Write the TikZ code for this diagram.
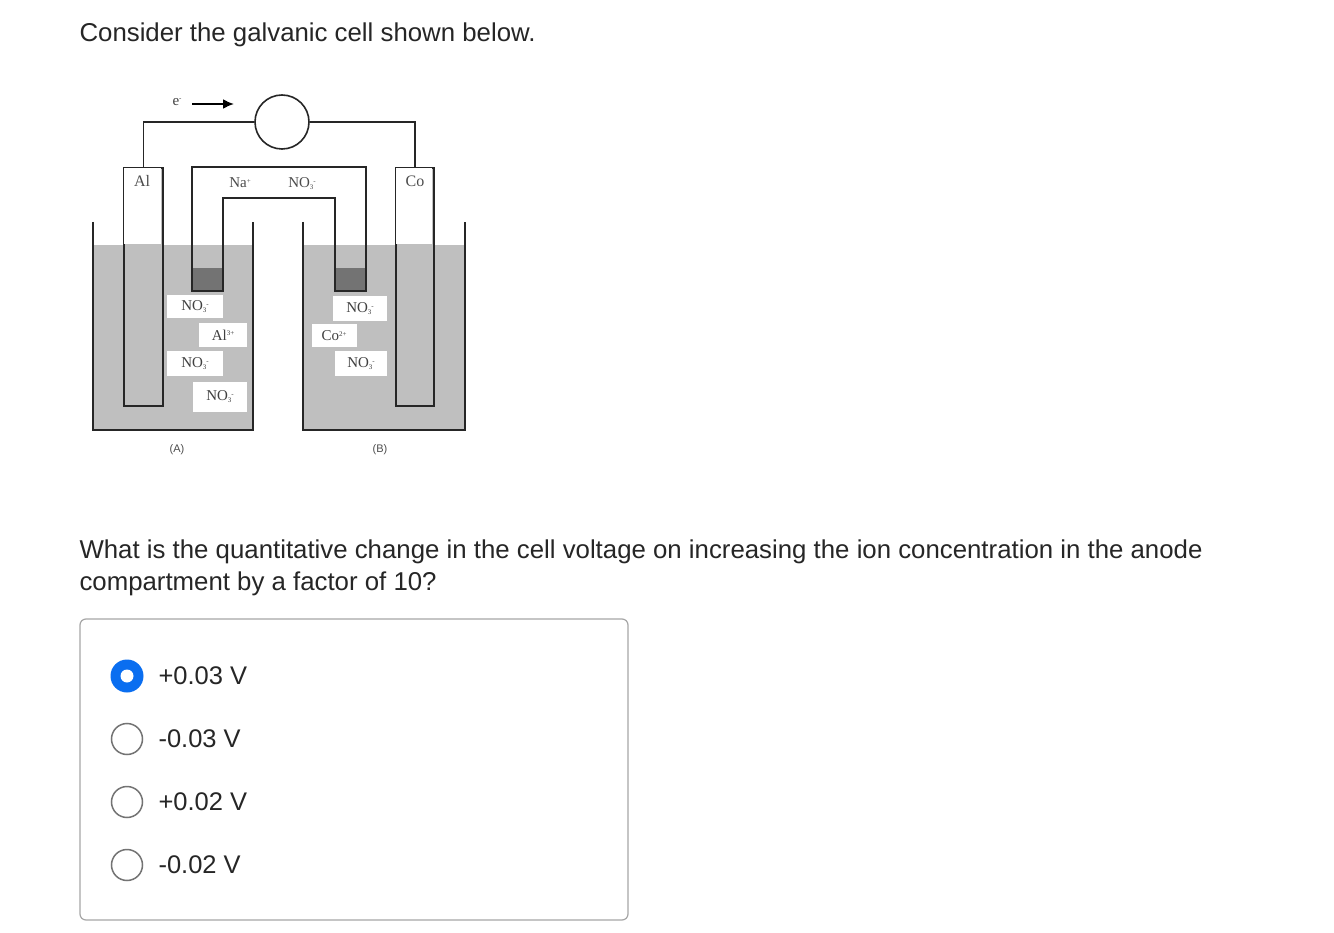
\documentclass[tikz,border=0pt]{standalone}
\usetikzlibrary{arrows.meta}
\usepackage{fontspec}
\setmainfont{Liberation Sans}
\newfontfamily\serifd{Liberation Serif}
\newcommand{\nothree}{NO\raisebox{-0.3ex}{\scriptsize 3}\raisebox{0.7ex}{\scriptsize -}}
\begin{document}
\begin{tikzpicture}[x=1pt,y=-1pt,
  wire/.style={line width=1.6pt,black!85},
  ion/.style={fill=white,inner sep=0pt,font=\serifd\fontsize{15}{15}\selectfont,text=black!75},
  radio/.style={circle,draw=black!55,line width=1.5pt,minimum size=31pt,inner sep=0pt},
  ans/.style={anchor=west,font=\fontsize{25.5}{30}\selectfont,text=black!85},
  q/.style={anchor=west,font=\fontsize{25.8}{30}\selectfont,text=black!85}]
\useasboundingbox (0,0) rectangle (1334,933);
\fill[white] (0,0) rectangle (1334,933);
\node[q] (t1) at (76,35) {Consider the galvanic cell shown below.};
% liquid
\fill[black!25] (93,245) rectangle (253,430);
\fill[black!25] (303,245) rectangle (465,430);
% salt bridge
\fill[white] (192,167) -- (366,167) -- (366,245) -- (335,245) -- (335,198) -- (223,198) -- (223,245) -- (192,245) -- cycle;
\fill[black!55] (192,268) rectangle (223,291);
\fill[black!55] (335,268) rectangle (366,291);
\draw[wire] (192,291) -- (192,167) -- (366,167) -- (366,291) -- (335,291) -- (335,198) -- (223,198) -- (223,291) -- cycle;
% beakers
\draw[wire] (93,222) -- (93,430) -- (253,430) -- (253,222);
\draw[wire] (303,222) -- (303,430) -- (465,430) -- (465,222);
% electrodes
\node[draw=black!85,line width=1.6pt,fill=black!25,minimum width=39pt,minimum height=238pt,anchor=north west,inner sep=0pt] (al) at (123,167) {};
\fill[white] (124,168) rectangle (161,244);
\node[draw=black!85,line width=1.6pt,fill=black!25,minimum width=38pt,minimum height=238pt,anchor=north west,inner sep=0pt] (co) at (395,167) {};
\fill[white] (396,168) rectangle (432,244);
\node[font=\serifd\fontsize{16}{16}\selectfont,text=black!70] (allab) at (142,181) {Al};
\node[font=\serifd\fontsize{16}{16}\selectfont,text=black!70] (colab) at (415,181) {Co};
% circuit
\node[circle,draw=black!85,line width=1.6pt,minimum size=54pt,inner sep=0pt] (m) at (282,122) {};
\draw[wire] (al.north) |- (m.west);
\draw[wire] (m.east) -| (co.north);
\node[font=\serifd\fontsize{15}{15}\selectfont,text=black!75] (e) at (177,102) {e\raisebox{0.7ex}{\scriptsize -}};
\coordinate (a1) at (192,104);
\coordinate (a2) at (234,104);
\draw[line width=2pt,-{Latex[length=11pt,width=10pt]}] (a1) -- (a2);
\node[font=\serifd\fontsize{15}{15}\selectfont,text=black!70] (na) at (240,183) {Na\raisebox{0.7ex}{\scriptsize +}};
\node[font=\serifd\fontsize{15}{15}\selectfont,text=black!70] (nob) at (302,184) {\nothree};
% ions
\node[ion,minimum width=56pt,minimum height=23pt] (i1) at (195,307) {\nothree};
\node[ion,minimum width=48pt,minimum height=24pt] (i2) at (223,335) {Al\raisebox{0.7ex}{\scriptsize 3+}};
\node[ion,minimum width=56pt,minimum height=25pt] (i3) at (195,364) {\nothree};
\node[ion,minimum width=54pt,minimum height=29pt] (i4) at (220,397) {\nothree};
\node[ion,minimum width=54pt,minimum height=25pt] (i5) at (360,309) {\nothree};
\node[ion,minimum width=45pt,minimum height=23pt] (i6) at (334,336) {Co\raisebox{0.7ex}{\scriptsize 2+}};
\node[ion,minimum width=52pt,minimum height=25pt] (i7) at (361,364) {\nothree};
\node[font=\fontsize{11}{11}\selectfont,text=black!70] (la) at (177,450) {(A)};
\node[font=\fontsize{11}{11}\selectfont,text=black!70] (lb) at (380,450) {(B)};
% question
\node[q] (t2) at (76,552) {What is the quantitative change in the cell voltage on increasing the ion concentration in the anode};
\node[q] (t3) at (76,584) {compartment by a factor of 10?};
\draw[black!35,line width=1.2pt,rounded corners=6pt] (80,619) rectangle (628,920);
\node[circle,fill={rgb,255:red,10;green,110;blue,240},minimum size=33pt,inner sep=0pt] (r1) at (127,676) {};
\fill[white] (r1) circle (6.5);
\node[radio] (r2) at (127,739) {};
\node[radio] (r3) at (127,802) {};
\node[radio] (r4) at (127,865) {};
\node[ans] (a1t) at (155,676) {+0.03 V};
\node[ans] (a2t) at (155,739) {-0.03 V};
\node[ans] (a3t) at (155,802) {+0.02 V};
\node[ans] (a4t) at (155,865) {-0.02 V};
\end{tikzpicture}
\end{document}
